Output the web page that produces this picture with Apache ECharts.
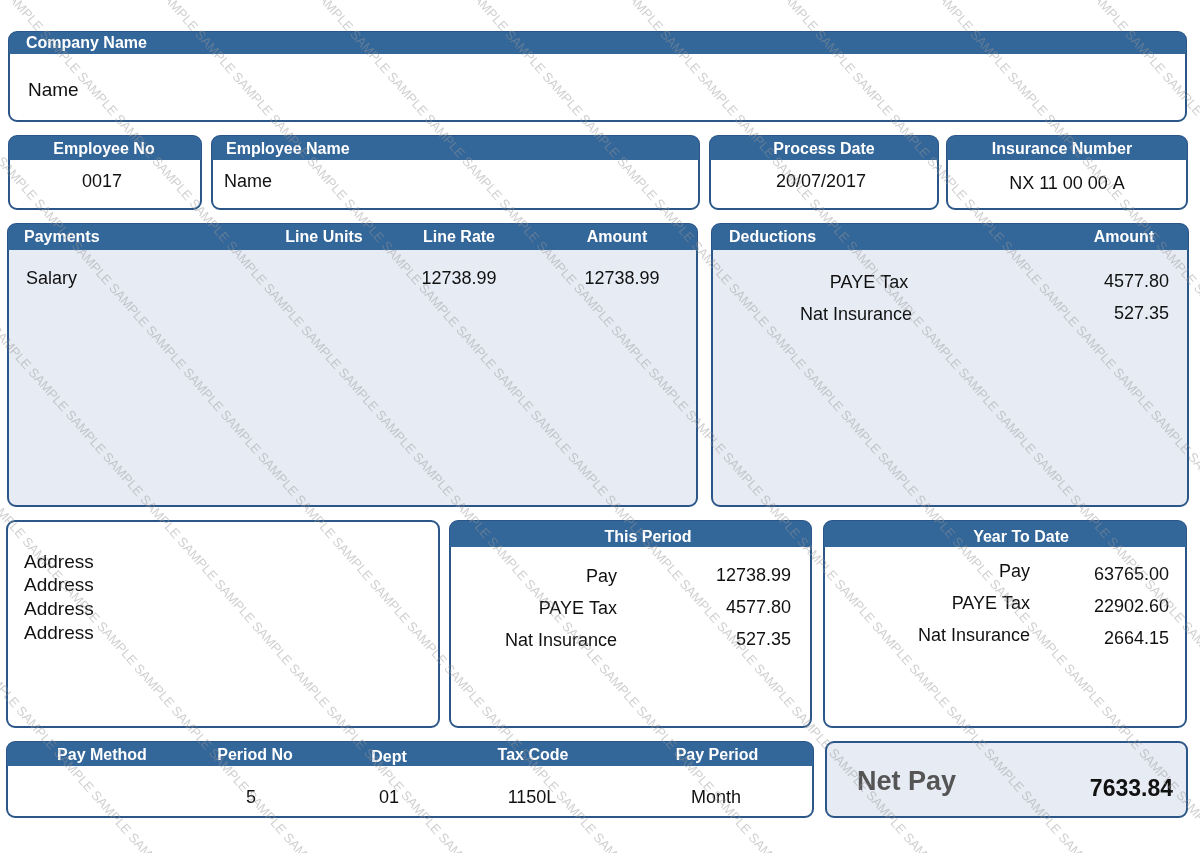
<!DOCTYPE html>
<html><head><meta charset="utf-8">
<script src="https://cdn.jsdelivr.net/npm/echarts@6/dist/echarts.min.js"></script>
<style>html,body{margin:0;padding:0;background:#fff}#c{width:1200px;height:853px}</style>
</head><body><div id="c"></div>
<script>
const company = {title:'Company Name', name:'Name'};
const employeeNo = '0017';
const employeeName = 'Name';
const processDate = '20/07/2017';
const insuranceNumber = 'NX 11 00 00 A';
const paymentHeaders = ['Payments','Line Units','Line Rate','Amount'];
const payments = [['Salary','','12738.99','12738.99']];
const deductionLabels = ['PAYE Tax','Nat Insurance'];
const deductionValues = ['4577.80','527.35'];
const addressLines = ['Address','Address','Address','Address'];
const periodLabels = ['Pay','PAYE Tax','Nat Insurance'];
const thisPeriod = ['12738.99','4577.80','527.35'];
const yearToDate = ['63765.00','22902.60','2664.15'];
const bottomHeaders = ['Pay Method','Period No','Dept','Tax Code','Pay Period'];
const bottomValues = ['','5','01','1150L','Month'];
const netPay = '7633.84';

const HEAD='#336699', BORD='#2b5688', FILL='#e7ebf4', FONT='"Liberation Sans", Arial, sans-serif';
const els=[];
function box(x1,y1,x2,y2,fill,hh){
  els.push({type:'rect',shape:{x:x1,y:y1,width:x2-x1,height:y2-y1,r:8},style:{fill:fill,stroke:BORD,lineWidth:2},z:1});
  if(hh) els.push({type:'rect',shape:{x:x1,y:y1,width:x2-x1,height:hh,r:[8,8,0,0]},style:{fill:HEAD},z:2});
}
function txt(s,x,y,o){o=o||{};
  els.push({type:'text',x:x,y:y+1.5,z:5,style:{text:s,fill:o.fill||'#111',font:(o.bold?'bold ':'')+(o.size||18)+'px '+FONT,textAlign:o.align||'left',textVerticalAlign:'middle'}});
}
function head(s,x,y,align){txt(s,x,y,{fill:'#fff',bold:true,size:16,align:align});}

box(9,32,1186,121,'#fff',22); head(company.title,26,42); txt(company.name,28,89,{size:19});
box(9,136,201,209,'#fff',24); head('Employee No',104,148,'center'); txt(employeeNo,102,181,{align:'center'});
box(212,136,699,209,'#fff',24); head('Employee Name',226,148); txt(employeeName,224,181);
box(710,136,938,209,'#fff',24); head('Process Date',824,148,'center'); txt(processDate,821,181,{align:'center'});
box(947,136,1187,209,'#fff',24); head('Insurance Number',1062,148,'center'); txt(insuranceNumber,1067,183,{align:'center'});

box(8,224,697,506,FILL,26);
head(paymentHeaders[0],24,236); head(paymentHeaders[1],324,236,'center'); head(paymentHeaders[2],459,236,'center'); head(paymentHeaders[3],617,236,'center');
payments.forEach((p,i)=>{txt(p[0],26,278+i*32); txt(p[1],324,278+i*32,{align:'center'}); txt(p[2],459,278+i*32,{align:'center'}); txt(p[3],622,278+i*32,{align:'center'});});

box(712,224,1188,506,FILL,26);
head('Deductions',729,236); head('Amount',1124,236,'center');
const dlx=[869,856];
deductionLabels.forEach((l,i)=>{txt(l,dlx[i],282+i*32,{align:'center'}); txt(deductionValues[i],1169,281+i*32,{align:'right'});});

box(7,521,439,727,'#fff',0);
addressLines.forEach((a,i)=>txt(a,24,561+i*23.7,{size:19}));

box(450,521,811,727,'#fff',26); head('This Period',648,536,'center');
periodLabels.forEach((l,i)=>{txt(l,617,576+i*32,{align:'right'}); txt(thisPeriod[i],791,575+i*32,{align:'right'});});

box(824,521,1186,727,'#fff',26); head('Year To Date',1021,536,'center');
periodLabels.forEach((l,i)=>{txt(l,1030,571+i*32,{align:'right'}); txt(yearToDate[i],1169,574+i*32,{align:'right'});});

box(7,742,813,817,'#fff',24);
const bx=[102,255,389,533,717], bvx=[102,251,389,532,716];
bottomHeaders.forEach((h,i)=>{head(h,bx[i],i==2?756:754,'center'); txt(bottomValues[i],bvx[i],797,{align:'center'});});

box(826,742,1187,817,FILL,0);
txt('Net Pay',857,781,{bold:true,size:27,fill:'#555'}); txt(netPay,1173,788,{bold:true,size:23,align:'right'});

// watermark
const wm=new Array(30).fill('SAMPLE').join(' ');
for(let k=-9;k<9;k++){
  els.push({type:'text',x:155*k+160,y:-10,rotation:-Math.PI*0.27,z:10,style:{text:wm,fill:'rgba(150,150,150,0.45)',font:'13px '+FONT,textVerticalAlign:'middle'}});
}

const chart=echarts.init(document.getElementById('c'));
chart.setOption({animation:false,graphic:{elements:els}});
</script></body></html>
